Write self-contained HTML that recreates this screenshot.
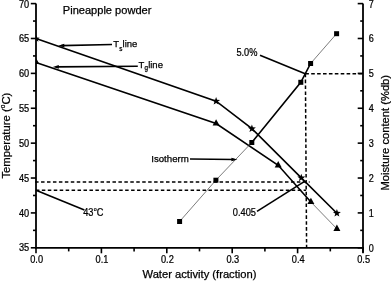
<!DOCTYPE html>
<html><head><meta charset="utf-8"><style>
html,body{margin:0;padding:0;background:#fff;}
svg{display:block;}
</style></head><body>
<svg width="391" height="281" viewBox="0 0 391 281">
<rect width="391" height="281" fill="#fff"/>
<path d="M36 3.6V248.8" stroke="#000" stroke-width="1.8" fill="none"/>
<path d="M35.1 247.8H363.9" stroke="#000" stroke-width="1.8" fill="none"/>
<path d="M363 3.6V252.8" stroke="#000" stroke-width="1.8" fill="none"/>
<path d="M30.8 247.80H36" stroke="#000" stroke-width="1.6"/>
<text transform="translate(29.2 251.40) scale(0.88 1)" font-family="Liberation Sans, Arial, sans-serif" stroke="#000" stroke-width="0.25" font-size="10.5" text-anchor="end">35</text>
<path d="M33 230.36H36" stroke="#000" stroke-width="1.6"/>
<path d="M30.8 212.92H36" stroke="#000" stroke-width="1.6"/>
<text transform="translate(29.2 216.52) scale(0.88 1)" font-family="Liberation Sans, Arial, sans-serif" stroke="#000" stroke-width="0.25" font-size="10.5" text-anchor="end">40</text>
<path d="M33 195.47H36" stroke="#000" stroke-width="1.6"/>
<path d="M30.8 178.03H36" stroke="#000" stroke-width="1.6"/>
<text transform="translate(29.2 181.63) scale(0.88 1)" font-family="Liberation Sans, Arial, sans-serif" stroke="#000" stroke-width="0.25" font-size="10.5" text-anchor="end">45</text>
<path d="M33 160.59H36" stroke="#000" stroke-width="1.6"/>
<path d="M30.8 143.15H36" stroke="#000" stroke-width="1.6"/>
<text transform="translate(29.2 146.75) scale(0.88 1)" font-family="Liberation Sans, Arial, sans-serif" stroke="#000" stroke-width="0.25" font-size="10.5" text-anchor="end">50</text>
<path d="M33 125.70H36" stroke="#000" stroke-width="1.6"/>
<path d="M30.8 108.26H36" stroke="#000" stroke-width="1.6"/>
<text transform="translate(29.2 111.86) scale(0.88 1)" font-family="Liberation Sans, Arial, sans-serif" stroke="#000" stroke-width="0.25" font-size="10.5" text-anchor="end">55</text>
<path d="M33 90.82H36" stroke="#000" stroke-width="1.6"/>
<path d="M30.8 73.38H36" stroke="#000" stroke-width="1.6"/>
<text transform="translate(29.2 76.97) scale(0.88 1)" font-family="Liberation Sans, Arial, sans-serif" stroke="#000" stroke-width="0.25" font-size="10.5" text-anchor="end">60</text>
<path d="M33 55.93H36" stroke="#000" stroke-width="1.6"/>
<path d="M30.8 38.49H36" stroke="#000" stroke-width="1.6"/>
<text transform="translate(29.2 42.09) scale(0.88 1)" font-family="Liberation Sans, Arial, sans-serif" stroke="#000" stroke-width="0.25" font-size="10.5" text-anchor="end">65</text>
<path d="M33 21.05H36" stroke="#000" stroke-width="1.6"/>
<path d="M30.8 3.60H36" stroke="#000" stroke-width="1.6"/>
<text transform="translate(29.2 7.90) scale(0.88 1)" font-family="Liberation Sans, Arial, sans-serif" stroke="#000" stroke-width="0.25" font-size="10.5" text-anchor="end">70</text>
<path d="M357.7 247.80H363" stroke="#000" stroke-width="1.6"/>
<text transform="translate(368.8 251.50) scale(0.88 1)" font-family="Liberation Sans, Arial, sans-serif" stroke="#000" stroke-width="0.25" font-size="10.3">0</text>
<path d="M360.2 230.36H363" stroke="#000" stroke-width="1.6"/>
<path d="M357.7 212.91H363" stroke="#000" stroke-width="1.6"/>
<text transform="translate(368.8 216.61) scale(0.88 1)" font-family="Liberation Sans, Arial, sans-serif" stroke="#000" stroke-width="0.25" font-size="10.3">1</text>
<path d="M360.2 195.47H363" stroke="#000" stroke-width="1.6"/>
<path d="M357.7 178.03H363" stroke="#000" stroke-width="1.6"/>
<text transform="translate(368.8 181.73) scale(0.88 1)" font-family="Liberation Sans, Arial, sans-serif" stroke="#000" stroke-width="0.25" font-size="10.3">2</text>
<path d="M360.2 160.59H363" stroke="#000" stroke-width="1.6"/>
<path d="M357.7 143.14H363" stroke="#000" stroke-width="1.6"/>
<text transform="translate(368.8 146.84) scale(0.88 1)" font-family="Liberation Sans, Arial, sans-serif" stroke="#000" stroke-width="0.25" font-size="10.3">3</text>
<path d="M360.2 125.70H363" stroke="#000" stroke-width="1.6"/>
<path d="M357.7 108.26H363" stroke="#000" stroke-width="1.6"/>
<text transform="translate(368.8 111.96) scale(0.88 1)" font-family="Liberation Sans, Arial, sans-serif" stroke="#000" stroke-width="0.25" font-size="10.3">4</text>
<path d="M360.2 90.81H363" stroke="#000" stroke-width="1.6"/>
<path d="M357.7 73.37H363" stroke="#000" stroke-width="1.6"/>
<text transform="translate(368.8 77.07) scale(0.88 1)" font-family="Liberation Sans, Arial, sans-serif" stroke="#000" stroke-width="0.25" font-size="10.3">5</text>
<path d="M360.2 55.93H363" stroke="#000" stroke-width="1.6"/>
<path d="M357.7 38.48H363" stroke="#000" stroke-width="1.6"/>
<text transform="translate(368.8 42.18) scale(0.88 1)" font-family="Liberation Sans, Arial, sans-serif" stroke="#000" stroke-width="0.25" font-size="10.3">6</text>
<path d="M360.2 21.04H363" stroke="#000" stroke-width="1.6"/>
<path d="M357.7 3.60H363" stroke="#000" stroke-width="1.6"/>
<text transform="translate(368.8 7.60) scale(0.88 1)" font-family="Liberation Sans, Arial, sans-serif" stroke="#000" stroke-width="0.25" font-size="10.3">7</text>
<path d="M36.00 247.8V253.3" stroke="#000" stroke-width="1.6"/>
<text transform="translate(36.60 262.6) scale(0.88 1)" font-family="Liberation Sans, Arial, sans-serif" stroke="#000" stroke-width="0.25" font-size="10.5" text-anchor="middle">0.0</text>
<path d="M68.70 247.8V251.4" stroke="#000" stroke-width="1.6"/>
<path d="M101.40 247.8V253.3" stroke="#000" stroke-width="1.6"/>
<text transform="translate(102.00 262.6) scale(0.88 1)" font-family="Liberation Sans, Arial, sans-serif" stroke="#000" stroke-width="0.25" font-size="10.5" text-anchor="middle">0.1</text>
<path d="M134.10 247.8V251.4" stroke="#000" stroke-width="1.6"/>
<path d="M166.80 247.8V253.3" stroke="#000" stroke-width="1.6"/>
<text transform="translate(167.40 262.6) scale(0.88 1)" font-family="Liberation Sans, Arial, sans-serif" stroke="#000" stroke-width="0.25" font-size="10.5" text-anchor="middle">0.2</text>
<path d="M199.50 247.8V251.4" stroke="#000" stroke-width="1.6"/>
<path d="M232.20 247.8V253.3" stroke="#000" stroke-width="1.6"/>
<text transform="translate(232.80 262.6) scale(0.88 1)" font-family="Liberation Sans, Arial, sans-serif" stroke="#000" stroke-width="0.25" font-size="10.5" text-anchor="middle">0.3</text>
<path d="M264.90 247.8V251.4" stroke="#000" stroke-width="1.6"/>
<path d="M297.60 247.8V253.3" stroke="#000" stroke-width="1.6"/>
<text transform="translate(298.20 262.6) scale(0.88 1)" font-family="Liberation Sans, Arial, sans-serif" stroke="#000" stroke-width="0.25" font-size="10.5" text-anchor="middle">0.4</text>
<path d="M330.30 247.8V251.4" stroke="#000" stroke-width="1.6"/>
<path d="M363.00 247.8V253.3" stroke="#000" stroke-width="1.6"/>
<text transform="translate(363.60 262.6) scale(0.88 1)" font-family="Liberation Sans, Arial, sans-serif" stroke="#000" stroke-width="0.25" font-size="10.5" text-anchor="middle">0.5</text>
<text x="62.8" y="14.3" font-family="Liberation Sans, Arial, sans-serif" stroke="#000" stroke-width="0.25" font-size="11" textLength="88.6" lengthAdjust="spacingAndGlyphs">Pineapple powder</text>
<text x="142.5" y="278" font-family="Liberation Sans, Arial, sans-serif" stroke="#000" stroke-width="0.25" font-size="11.2">Water activity (fraction)</text>
<text transform="translate(9.6 178.6) rotate(-90)" font-family="Liberation Sans, Arial, sans-serif" stroke="#000" stroke-width="0.25" font-size="11.3">Temperature (<tspan font-size="6.5" dy="-5" dx="0">o</tspan><tspan dy="5" dx="0.1">C)</tspan></text>
<text transform="translate(388.8 190.6) rotate(-90)" font-family="Liberation Sans, Arial, sans-serif" stroke="#000" stroke-width="0.25" font-size="11.2">Moisture content (%db)</text>
<path d="M35.1 181.9H309.7" stroke="#000" stroke-width="1.5" stroke-dasharray="3.5 2.45" fill="none"/>
<path d="M35.9 190.2H306.1" stroke="#000" stroke-width="1.5" stroke-dasharray="3.5 2.45" fill="none"/>
<path d="M305.4 73.7L306.6 248" stroke="#000" stroke-width="1.5" stroke-dasharray="3.6 2.3" fill="none"/>
<path d="M305.3 73.7H363" stroke="#000" stroke-width="1.5" stroke-dasharray="3.6 2.3" fill="none"/>
<polyline points="36,38.5 216.1,101.2 251.9,128.7 301.3,177.9 336.9,213.2" stroke="#000" stroke-width="1.6" fill="none"/>
<polyline points="36,62.5 216.1,123.5 278.2,165.3 310.9,202" stroke="#000" stroke-width="1.6" fill="none"/>
<polyline points="310.9,202 336.9,228.8" stroke="#444" stroke-width="0.7" fill="none"/>
<polyline points="179.6,221.5 215.9,180.2 251.8,142.5" stroke="#444" stroke-width="0.7" fill="none"/>
<polyline points="251.8,142.5 300.8,82.3 305.3,73.7 310.6,63.5" stroke="#000" stroke-width="1.6" fill="none"/>
<polyline points="310.6,63.5 336.6,33.7" stroke="#444" stroke-width="0.7" fill="none"/>
<clipPath id="pc"><rect x="36" y="0" width="330" height="248"/></clipPath>
<g clip-path="url(#pc)">
<polygon points="36.30,35.20 37.18,37.59 39.72,37.69 37.73,39.26 38.42,41.71 36.30,40.30 34.18,41.71 34.87,39.26 32.88,37.69 35.42,37.59" fill="#000"/>
<polygon points="36.30,58.60 33.30,64.00 39.30,64.00" fill="#000"/>
</g>
<rect x="177.10" y="219.00" width="5.0" height="5.0" fill="#000"/>
<rect x="213.40" y="177.70" width="5.0" height="5.0" fill="#000"/>
<rect x="249.30" y="140.00" width="5.0" height="5.0" fill="#000"/>
<rect x="298.30" y="79.80" width="5.0" height="5.0" fill="#000"/>
<rect x="308.10" y="61.00" width="5.0" height="5.0" fill="#000"/>
<rect x="334.10" y="31.20" width="5.0" height="5.0" fill="#000"/>
<polygon points="216.10,119.30 212.60,125.60 219.60,125.60" fill="#000"/>
<polygon points="278.20,161.10 274.70,167.40 281.70,167.40" fill="#000"/>
<polygon points="310.90,197.80 307.40,204.10 314.40,204.10" fill="#000"/>
<polygon points="336.90,224.60 333.40,230.90 340.40,230.90" fill="#000"/>
<polygon points="216.10,97.00 217.10,99.82 220.09,99.90 217.72,101.73 218.57,104.60 216.10,102.90 213.63,104.60 214.48,101.73 212.11,99.90 215.10,99.82" fill="#000"/>
<polygon points="251.90,124.50 252.90,127.32 255.89,127.40 253.52,129.23 254.37,132.10 251.90,130.40 249.43,132.10 250.28,129.23 247.91,127.40 250.90,127.32" fill="#000"/>
<polygon points="301.30,173.70 302.30,176.52 305.29,176.60 302.92,178.43 303.77,181.30 301.30,179.60 298.83,181.30 299.68,178.43 297.31,176.60 300.30,176.52" fill="#000"/>
<polygon points="336.90,209.00 337.90,211.82 340.89,211.90 338.52,213.73 339.37,216.60 336.90,214.90 334.43,216.60 335.28,213.73 332.91,211.90 335.90,211.82" fill="#000"/>
<path d="M112 44.5L61.30 45.63" stroke="#000" stroke-width="1.6"/>
<polygon points="58.3,45.7 64.26,43.77 64.34,47.37" fill="#000"/>
<path d="M137.8 66.3L55.80 66.88" stroke="#000" stroke-width="1.6"/>
<polygon points="52.8,66.9 58.79,65.06 58.81,68.66" fill="#000"/>
<path d="M190 159L234.40 159.47" stroke="#000" stroke-width="1.6"/>
<polygon points="237.4,159.5 231.38,161.24 231.42,157.64" fill="#000"/>
<path d="M36 190.2L84.4 210" stroke="#000" stroke-width="1.6"/>
<path d="M257 211.4L304.6 181.4" stroke="#000" stroke-width="1.6"/>
<path d="M260 55.2L305.2 73.7" stroke="#000" stroke-width="1.6"/>
<text x="113.2" y="47.1" font-family="Liberation Sans, Arial, sans-serif" stroke="#000" stroke-width="0.25" font-size="9.5">T<tspan font-size="6.3" dx="0.2" dy="3.8">s</tspan><tspan dy="-3.8" dx="0.2">line</tspan></text>
<text x="138.4" y="67.6" font-family="Liberation Sans, Arial, sans-serif" stroke="#000" stroke-width="0.25" font-size="9.5">T<tspan font-size="6.3" dx="0.2" dy="2.5">g</tspan><tspan dy="-2.5" dx="0.2">line</tspan></text>
<text x="151.2" y="161.6" font-family="Liberation Sans, Arial, sans-serif" stroke="#000" stroke-width="0.25" font-size="9.7">Isotherm</text>
<text transform="translate(232.8 216.3) scale(0.88 1)" font-family="Liberation Sans, Arial, sans-serif" stroke="#000" stroke-width="0.25" font-size="10.5">0.405</text>
<text transform="translate(83.2 215.7) scale(0.88 1)" font-family="Liberation Sans, Arial, sans-serif" stroke="#000" stroke-width="0.25" font-size="10.5">43<tspan font-size="6" dy="-4.8" dx="0.2">o</tspan><tspan dy="4.8" dx="0.3">C</tspan></text>
<text transform="translate(236.4 55.7) scale(0.88 1)" font-family="Liberation Sans, Arial, sans-serif" stroke="#000" stroke-width="0.25" font-size="10.5">5.0%</text>
</svg>
</body></html>
